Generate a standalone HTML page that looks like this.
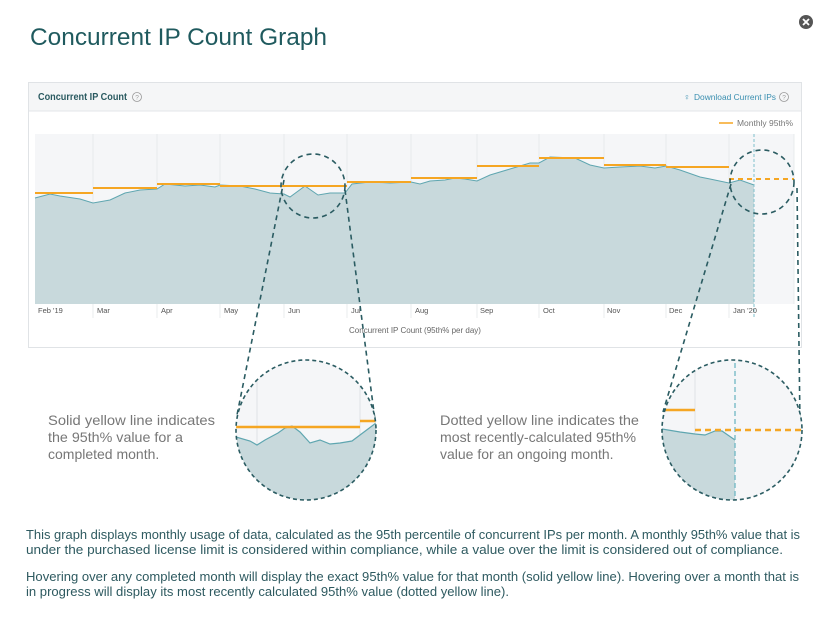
<!DOCTYPE html>
<html><head><meta charset="utf-8"><style>
body{margin:0;background:#fff;}
svg{display:block;font-family:"Liberation Sans",sans-serif;}
</style></head><body>
<svg width="830" height="622" viewBox="0 0 830 622">
<defs>
<clipPath id="cl"><circle cx="306" cy="430" r="70"/></clipPath>
<clipPath id="cr"><circle cx="732" cy="430" r="70"/></clipPath>
</defs>
<text x="30" y="45" font-size="24" fill="#1f5a5e" textLength="297" lengthAdjust="spacingAndGlyphs">Concurrent IP Count Graph</text>
<circle cx="806" cy="22" r="7" fill="#555"/>
<path d="M803 19 L809 25 M809 19 L803 25" stroke="#fff" stroke-width="1.8"/>
<!-- panel -->
<rect x="28.5" y="82.5" width="773" height="265" fill="#fff" stroke="#e0e3e6"/>
<rect x="29" y="83" width="772" height="28" fill="#f5f6f7"/>
<line x1="29" y1="111" x2="801" y2="111" stroke="#e3e6e8"/>
<text x="38" y="100" font-size="10" font-weight="bold" fill="#2a5a60" textLength="89" lengthAdjust="spacingAndGlyphs">Concurrent IP Count</text>
<circle cx="137" cy="97" r="4.5" fill="none" stroke="#999" stroke-width="0.8"/>
<text x="137" y="99.5" font-size="6.5" fill="#999" text-anchor="middle">?</text>
<text x="694" y="100" font-size="8.5" fill="#3a8fb0" textLength="82" lengthAdjust="spacingAndGlyphs">Download Current IPs</text>
<text x="687" y="100" font-size="9" fill="#3a8fb0" text-anchor="middle">♀</text>
<circle cx="784" cy="97" r="4.5" fill="none" stroke="#999" stroke-width="0.8"/>
<text x="784" y="99.5" font-size="6.5" fill="#999" text-anchor="middle">?</text>
<line x1="719" y1="123" x2="733" y2="123" stroke="#f5a623" stroke-width="1.5"/>
<text x="737" y="126" font-size="8" fill="#777" textLength="56" lengthAdjust="spacingAndGlyphs">Monthly 95th%</text>
<rect x="35" y="134" width="759" height="170" fill="#f5f6f8"/>
<g stroke="#e4e7ea" stroke-width="0.8">
<line x1="93" y1="134" x2="93" y2="318"/><line x1="157" y1="134" x2="157" y2="318"/><line x1="220" y1="134" x2="220" y2="318"/><line x1="284" y1="134" x2="284" y2="318"/><line x1="347" y1="134" x2="347" y2="318"/><line x1="411" y1="134" x2="411" y2="318"/><line x1="477" y1="134" x2="477" y2="318"/><line x1="539" y1="134" x2="539" y2="318"/><line x1="604" y1="134" x2="604" y2="318"/><line x1="666" y1="134" x2="666" y2="318"/><line x1="729" y1="134" x2="729" y2="318"/><line x1="794" y1="134" x2="794" y2="304"/>
</g>
<path d="M35,198 L50,194 L60,196 L80,199 L93,203 L110,200 L125,193 L140,190 L157,189 L165,184 L185,186 L200,185 L215,187 L220,185 L240,186 L255,189 L270,193 L284,194 L290,197 L305,186 L318,195 L330,193 L345,193 L352,184 L370,182 L390,183 L411,182 L420,184 L430,181 L445,180 L455,178 L465,179 L477,181 L490,175 L510,169 L530,163 L539,163 L550,157 L575,158 L590,165 L604,168 L620,167 L640,166 L655,168 L666,166 L680,170 L700,177 L710,179 L729,183 L740,180 L754,185 L754,304 L35,304 Z" fill="#c8d9dc" stroke="none"/>
<path d="M35,198 L50,194 L60,196 L80,199 L93,203 L110,200 L125,193 L140,190 L157,189 L165,184 L185,186 L200,185 L215,187 L220,185 L240,186 L255,189 L270,193 L284,194 L290,197 L305,186 L318,195 L330,193 L345,193 L352,184 L370,182 L390,183 L411,182 L420,184 L430,181 L445,180 L455,178 L465,179 L477,181 L490,175 L510,169 L530,163 L539,163 L550,157 L575,158 L590,165 L604,168 L620,167 L640,166 L655,168 L666,166 L680,170 L700,177 L710,179 L729,183 L740,180 L754,185" fill="none" stroke="#5fa6b0" stroke-width="1"/>
<line x1="754" y1="134" x2="754" y2="318" stroke="#7fc0cc" stroke-dasharray="3,2"/>
<g stroke="#f5a623" stroke-width="2">
<line x1="35" y1="193" x2="93" y2="193"/><line x1="93" y1="188" x2="157" y2="188"/><line x1="157" y1="184" x2="220" y2="184"/><line x1="220" y1="186" x2="284" y2="186"/><line x1="284" y1="186" x2="347" y2="186"/><line x1="347" y1="182" x2="411" y2="182"/><line x1="411" y1="178" x2="477" y2="178"/><line x1="477" y1="166" x2="539" y2="166"/><line x1="539" y1="158" x2="604" y2="158"/><line x1="604" y1="165" x2="666" y2="165"/><line x1="666" y1="167" x2="729" y2="167"/>
<line x1="729" y1="179" x2="794" y2="179" stroke-dasharray="5,4"/>
</g>
<g font-size="7.5" fill="#555">
<text x="38" y="313">Feb '19</text><text x="97" y="313">Mar</text><text x="161" y="313">Apr</text><text x="224" y="313">May</text><text x="288" y="313">Jun</text><text x="351" y="313">Jul</text><text x="415" y="313">Aug</text><text x="480" y="313">Sep</text><text x="543" y="313">Oct</text><text x="607" y="313">Nov</text><text x="669" y="313">Dec</text><text x="733" y="313">Jan '20</text>
</g>
<text x="415" y="333" font-size="8" fill="#666" text-anchor="middle">Concurrent IP Count (95th% per day)</text>
<!-- magnifiers -->
<g fill="none" stroke="#2b5c62" stroke-width="1.6" stroke-dasharray="5,4">
<circle cx="313" cy="186" r="32"/>
<circle cx="762" cy="182" r="32"/>
<line x1="284" y1="180" x2="237" y2="415"/>
<line x1="345" y1="190" x2="375" y2="420"/>
<line x1="731" y1="184" x2="663" y2="412"/>
<line x1="797" y1="188" x2="800" y2="425"/>
</g>
<g clip-path="url(#cl)">
<rect x="230" y="355" width="150" height="150" fill="#f5f6f8"/>
<line x1="257" y1="355" x2="257" y2="505" stroke="#e0e3e6"/>
<line x1="360" y1="355" x2="360" y2="505" stroke="#e0e3e6"/>
<path d="M236,437 L250,441 L257,445 L265,440 L278,433 L285,428 L292,426 L300,432 L310,443 L320,440 L330,444 L340,443 L352,441 L360,435 L376,423 L376,505 L236,505 Z" fill="#c8d9dc"/>
<path d="M236,437 L250,441 L257,445 L265,440 L278,433 L285,428 L292,426 L300,432 L310,443 L320,440 L330,444 L340,443 L352,441 L360,435 L376,423" fill="none" stroke="#5fa6b0" stroke-width="1.2"/>
<line x1="236" y1="427" x2="360" y2="427" stroke="#f5a623" stroke-width="2.5"/>
<line x1="360" y1="421" x2="378" y2="421" stroke="#f5a623" stroke-width="2.5"/>
</g>
<g clip-path="url(#cr)">
<rect x="660" y="355" width="145" height="150" fill="#f5f6f8"/>
<line x1="695" y1="355" x2="695" y2="505" stroke="#e0e3e6"/>
<path d="M662,429 L680,432 L695,434 L705,435 L715,431 L722,431 L735,440 L735,505 L662,505 Z" fill="#c8d9dc"/>
<path d="M662,429 L680,432 L695,434 L705,435 L715,431 L722,431 L735,440" fill="none" stroke="#5fa6b0" stroke-width="1.2"/>
<line x1="735" y1="355" x2="735" y2="505" stroke="#6fb7c4" stroke-width="1.3" stroke-dasharray="5,3"/>
<line x1="662" y1="410" x2="695" y2="410" stroke="#f5a623" stroke-width="2.5"/>
<line x1="695" y1="430" x2="802" y2="430" stroke="#f5a623" stroke-width="2.5" stroke-dasharray="6,4"/>
</g>
<circle cx="306" cy="430" r="70" fill="none" stroke="#2b5c62" stroke-width="1.6" stroke-dasharray="4,3"/>
<circle cx="732" cy="430" r="70" fill="none" stroke="#2b5c62" stroke-width="1.6" stroke-dasharray="4,3"/>
<g font-size="14" fill="#777">
<text x="48" y="425" textLength="167" lengthAdjust="spacingAndGlyphs">Solid yellow line indicates</text>
<text x="48" y="442" textLength="135" lengthAdjust="spacingAndGlyphs">the 95th% value for a</text>
<text x="48" y="459">completed month.</text>
<text x="440" y="425" textLength="199" lengthAdjust="spacingAndGlyphs">Dotted yellow line indicates the</text>
<text x="440" y="442" textLength="196" lengthAdjust="spacingAndGlyphs">most recently-calculated 95th%</text>
<text x="440" y="459">value for an ongoing month.</text>
</g>
<g font-size="12.5" fill="#2e5a60">
<text x="26" y="539" textLength="774" lengthAdjust="spacingAndGlyphs">This graph displays monthly usage of data, calculated as the 95th percentile of concurrent IPs per month. A monthly 95th% value that is</text>
<text x="26" y="554" textLength="757" lengthAdjust="spacingAndGlyphs">under the purchased license limit is considered within compliance, while a value over the limit is considered out of compliance.</text>
<text x="26" y="581" textLength="773" lengthAdjust="spacingAndGlyphs">Hovering over any completed month will display the exact 95th% value for that month (solid yellow line). Hovering over a month that is</text>
<text x="26" y="596" textLength="483" lengthAdjust="spacingAndGlyphs">in progress will display its most recently calculated 95th% value (dotted yellow line).</text>
</g>
</svg>
</body></html>
